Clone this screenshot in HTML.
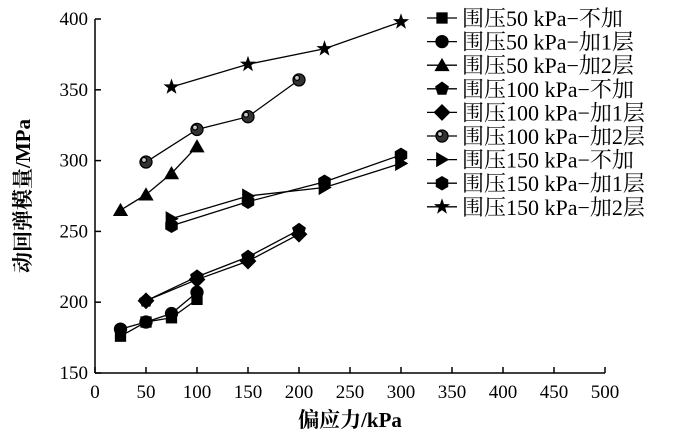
<!DOCTYPE html>
<html><head><meta charset="utf-8"><style>
body{margin:0;background:#fff}
svg text{font-family:"Liberation Serif","Noto Serif CJK SC",serif;fill:#000}
</style></head><body>
<svg width="700" height="437" id="c"></svg>
<script>
const xTicks=[0,50,100,150,200,250,300,350,400,450,500];
const yTicks=[150,200,250,300,350,400];
const seriesNames=["围压50 kPa−不加","围压50 kPa−加1层","围压50 kPa−加2层","围压100 kPa−不加","围压100 kPa−加1层","围压100 kPa−加2层","围压150 kPa−不加","围压150 kPa−加1层","围压150 kPa−加2层"];
const markers=["square","circle","triangle","pentagon","diamond","sphere","right","hexagon","star"];
const x50=[25,50,75,100];
const x100=[50,100,150,200];
const x150=[75,150,225,300];
const s50a=[176,186,189,202];
const s50b=[181,186,192,207];
const s50c=[265,276,291,310];
const s100a=[201,218,232,251];
const s100b=[201,216,229,248];
const s100c=[299,322,331,357];
const s150a=[259,275,281,298];
const s150b=[254,271,285,304];
const s150c=[352,368,379,398];
const seriesX=[x50,x50,x50,x100,x100,x100,x150,x150,x150];
const seriesY=[s50a,s50b,s50c,s100a,s100b,s100c,s150a,s150b,s150c];
const NS="http://www.w3.org/2000/svg";
const svg=document.getElementById('c');
const X=v=>95+v*1.02, Y=v=>373-(v-150)*1.416;
function mk(t,a,p){const e=document.createElementNS(NS,t);for(const k in a)e.setAttribute(k,a[k]);(p||svg).appendChild(e);return e;}
function poly(n,r,rot,cx,cy){let p=[];for(let i=0;i<n;i++){const a=rot+i*2*Math.PI/n;p.push((cx+r*Math.cos(a)).toFixed(1)+","+(cy+r*Math.sin(a)).toFixed(1));}return p.join(" ");}
function marker(type,cx,cy,g){
  let e;
  if(type=="square")e=mk('rect',{x:cx-5,y:cy-5,width:10,height:10},g);
  else if(type=="circle")e=mk('circle',{cx:cx,cy:cy,r:6},g);
  else if(type=="sphere"){e=mk('circle',{cx:cx,cy:cy,r:6,fill:"#333",stroke:"#000"},g);mk('circle',{cx:cx-2,cy:cy-2,r:2.5,fill:"#ccc"},g);return e;}
  else if(type=="triangle")e=mk('polygon',{points:poly(3,7.5,-Math.PI/2,cx,cy+1.5)},g);
  else if(type=="pentagon")e=mk('polygon',{points:poly(5,6.5,-Math.PI/2,cx,cy)},g);
  else if(type=="diamond")e=mk('polygon',{points:poly(4,7.5,0,cx,cy)},g);
  else if(type=="right")e=mk('polygon',{points:poly(3,7.5,0,cx-1.5,cy)},g);
  else if(type=="hexagon")e=mk('polygon',{points:poly(6,6.5,Math.PI/6,cx,cy)},g);
  else if(type=="star"){let p=[];for(let i=0;i<10;i++){const r=i%2?2.6:6.5,a=-Math.PI/2+i*Math.PI/5;p.push((cx+r*Math.cos(a)).toFixed(1)+","+(cy+r*Math.sin(a)).toFixed(1));}e=mk('polygon',{points:p.join(" ")},g);}
  return e;
}
const ax=mk('g',{stroke:"#000","stroke-width":1.5,fill:"none"});

mk('line',{x1:95,y1:19,x2:95,y2:373},ax);
mk('line',{x1:95,y1:373,x2:605,y2:373},ax);
xTicks.forEach(t=>{mk('line',{x1:X(t),y1:373,x2:X(t),y2:367},ax);
 const tx=mk('text',{x:X(t),y:398,"text-anchor":"middle","font-size":19});tx.textContent=t;
 });
yTicks.forEach(t=>{mk('line',{x1:95,y1:Y(t),x2:101,y2:Y(t)},ax);
 const tx=mk('text',{x:88,y:Y(t)+6,"text-anchor":"end","font-size":19});tx.textContent=t;
 });
const xt=mk('text',{x:350,y:427,"text-anchor":"middle","font-size":21,"font-weight":"bold"});xt.textContent="偏应力/kPa";

const yt=mk('text',{x:0,y:0,"text-anchor":"middle","font-size":21,"font-weight":"bold",transform:"translate(30,196) rotate(-90)"});yt.textContent="动回弹模量/MPa";

seriesY.forEach((ys,i)=>{
  const g=mk('g',{fill:"#000",stroke:"#000","stroke-width":1.3});
  
  mk('polyline',{points:ys.map((v,j)=>X(seriesX[i][j])+","+Y(v)).join(" "),fill:"none"},g);
  ys.forEach((v,j)=>{const m=marker(markers[i],X(seriesX[i][j]),Y(v),g);
    });
});
seriesNames.forEach((n,i)=>{
  const y=18+i*23.6;
  const g=mk('g',{fill:"#000",stroke:"#000","stroke-width":1.3});
  
  mk('line',{x1:427,y1:y,x2:457,y2:y},g);
  marker(markers[i],442,y,g);
  const t=mk('text',{x:462,y:y+8,"font-size":22,stroke:"none"},g);t.textContent=n;
});
</script>
</body></html>
